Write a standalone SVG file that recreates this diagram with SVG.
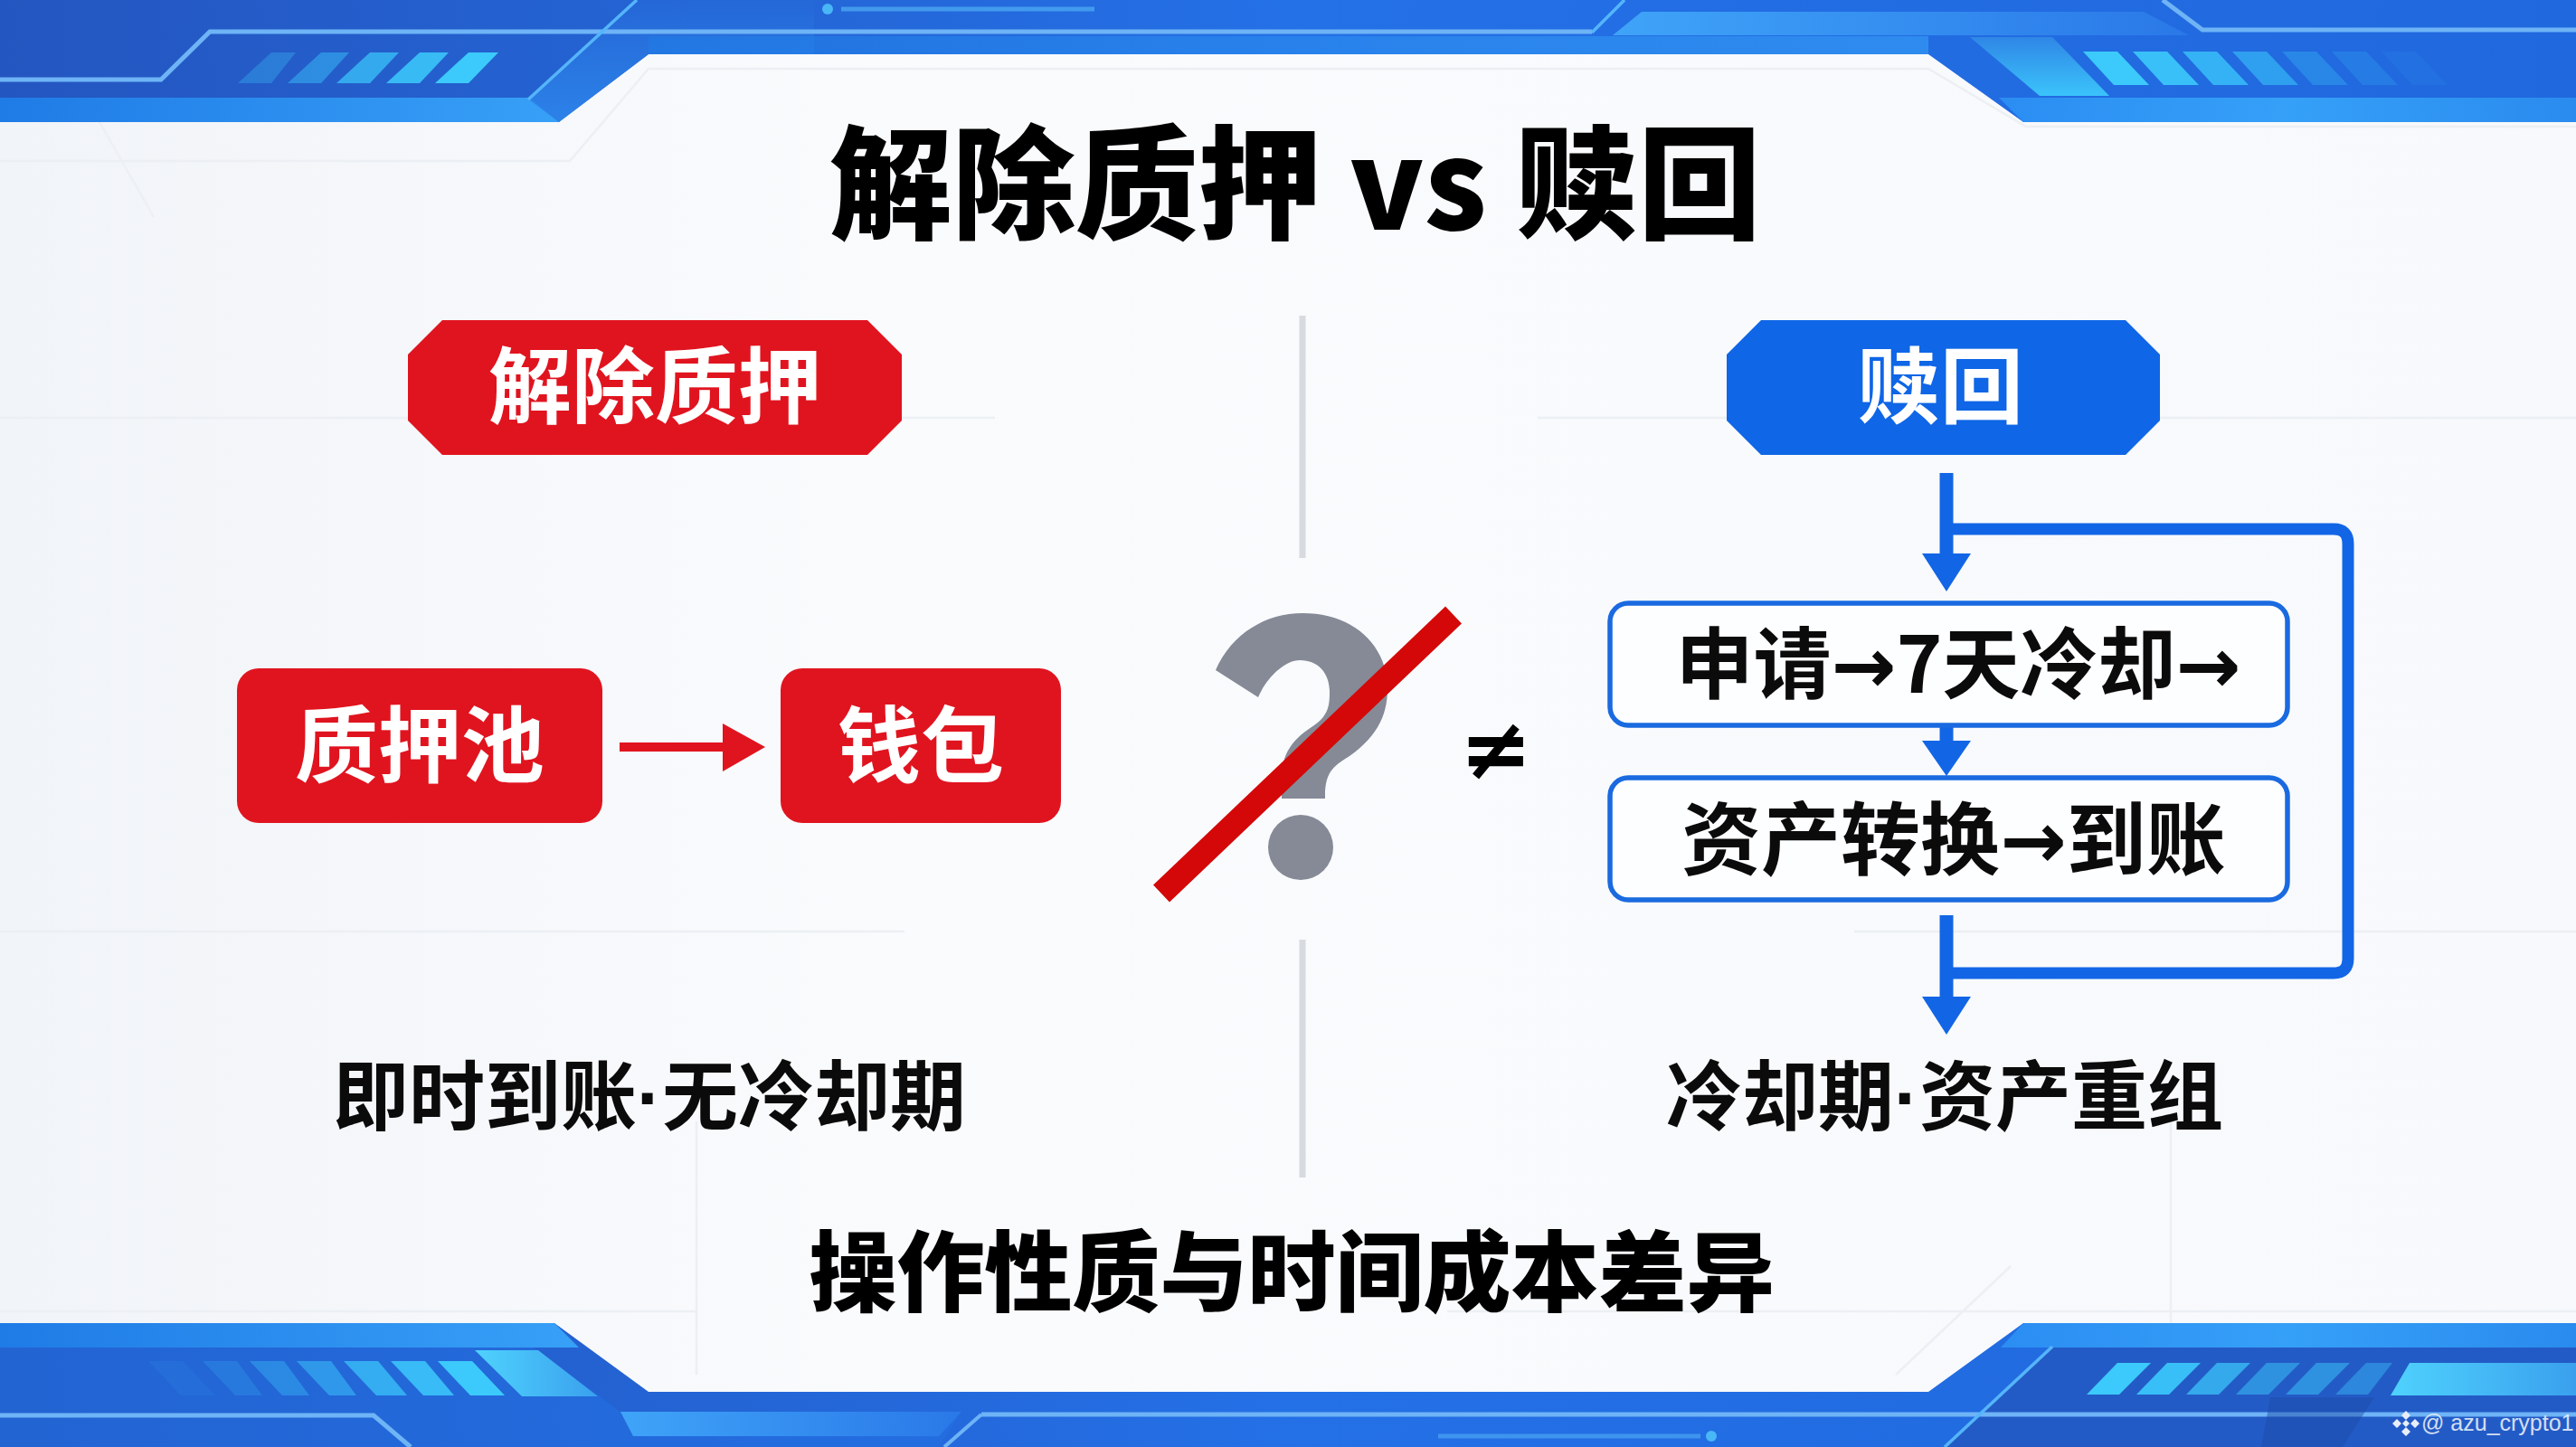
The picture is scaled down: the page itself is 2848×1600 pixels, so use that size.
<svg xmlns="http://www.w3.org/2000/svg" width="2848" height="1600" viewBox="0 0 2848 1600">
<defs>
<linearGradient id="bg" x1="0" x2="1" y1="0" y2="0"><stop offset="0" stop-color="#f1f4f8"/><stop offset="0.35" stop-color="#fafbfd"/><stop offset="1" stop-color="#f7f9fc"/></linearGradient>
<linearGradient id="topBand" x1="0" x2="1" y1="0" y2="0"><stop offset="0" stop-color="#2456c0"/><stop offset="0.5" stop-color="#2470e6"/><stop offset="1" stop-color="#2068de"/></linearGradient>
<linearGradient id="edgeL" x1="0" x2="1" y1="0" y2="0"><stop offset="0" stop-color="#1f7be6"/><stop offset="1" stop-color="#37a0f7"/></linearGradient>
<linearGradient id="edgeR" x1="0" x2="1" y1="0" y2="0"><stop offset="0" stop-color="#2b8df2"/><stop offset="0.5" stop-color="#35a0f8"/><stop offset="1" stop-color="#2a8bee"/></linearGradient>
<linearGradient id="panelFade" x1="0" x2="1" y1="0" y2="0"><stop offset="0" stop-color="#3fa4f8"/><stop offset="1" stop-color="#2a78e8"/></linearGradient>
<linearGradient id="slope" x1="0" x2="0" y1="0" y2="1"><stop offset="0" stop-color="#2568d8"/><stop offset="1" stop-color="#2f8df0"/></linearGradient>
<linearGradient id="cyanBar" x1="0" x2="0" y1="0" y2="1"><stop offset="0" stop-color="#2f86e6"/><stop offset="1" stop-color="#3bc4fb"/></linearGradient>
<linearGradient id="cyanPanel" x1="0" x2="1" y1="0" y2="0"><stop offset="0" stop-color="#4fd2fd"/><stop offset="1" stop-color="#3aa0ee"/></linearGradient>
</defs>
<style>
.cjk{font-family:"Noto Sans CJK SC","Noto Sans",sans-serif;text-anchor:middle}
.title{font-weight:900;fill:#000}
.wt{font-weight:700;fill:#fff;font-size:92px}
.bk{font-weight:700;fill:#0b0b0b;font-size:86px}
.cap{font-size:84px}
.ar{font-family:"DejaVu Sans",sans-serif;font-weight:700}
.dot{font-family:"Liberation Sans",sans-serif}
.line{fill:none;stroke:#6eb4f6;stroke-width:5}
.thin{fill:none;stroke:#55b5fb;stroke-width:3.5}
.faint{fill:none;stroke:#eceff3;stroke-width:2.5}
.flow{fill:none;stroke:#1266e6;stroke-width:15}
.loop{fill:none;stroke:#1266e6;stroke-width:13}
.head{fill:#1266e6}
.step{fill:#fdfeff;stroke:#1a6ae0;stroke-width:5.5}
.divider{stroke:#d7dade;stroke-width:7}
.cy{fill:#3ccafc}
</style>
<rect id="background" width="2848" height="1600" fill="url(#bg)"/>
<g id="faint-lines">
<path class="faint" d="M0 178H630L717 76H2132L2240 140H2848"/>
<path class="faint" d="M110 135L170 240M0 462H1100M1700 462H2848M0 1030H1000M2050 1030H2848M770 1240V1520M2400 1240V1500M0 1450H770M2096 1520L2223 1400M1600 1450H2848"/>
</g>

<g id="top-band">
<path fill="url(#topBand)" d="M0 0H2848V135H2237L2132 60H717L618 135H0Z"/>
<path fill="url(#edgeL)" d="M0 108H584L618 135H0Z"/>
<path fill="url(#slope)" d="M584 110L704 0H900V60H717L618 135Z" opacity="0.75"/>
<path fill="url(#edgeL)" d="M717 40H2132V60H717Z" opacity="0.6"/>
<path fill="url(#edgeR)" d="M2210 108H2848V135H2237Z"/>
<path fill="url(#panelFade)" d="M1815 13H2370L2420 39H1783Z"/>
<path fill="url(#cyanBar)" d="M2178 41H2269L2332 106H2255Z"/>
<path class="line" d="M0 88H178L232 35H1760"/>
<path class="thin" d="M704 0L584 110"/>
<path class="thin" d="M1796 0L1760 36"/>
<path class="line" d="M2391 0L2435 33H2848"/>
<circle cx="915" cy="10" r="6" fill="#49b6f6"/>
<path d="M930 10H1210" stroke="#4aa6f2" stroke-width="5" opacity="0.8"/>
<g class="cy">
<path opacity="0.3" d="M300 58H327L300 92H263Z"/>
<path opacity="0.45" d="M355 58H386L355 92H318Z"/>
<path opacity="0.7" d="M409 58H441L409 92H372Z"/>
<path opacity="0.85" d="M464 58H496L464 92H427Z"/>
<path d="M518 58H551L518 92H481Z"/>
<path d="M2303 57H2341L2376 94H2337Z"/>
<path opacity="0.9" d="M2358 57H2396L2431 94H2392Z"/>
<path opacity="0.75" d="M2413 57H2451L2486 94H2447Z"/>
<path opacity="0.55" d="M2468 57H2506L2541 94H2502Z"/>
<path opacity="0.3" d="M2523 57H2561L2596 94H2557Z"/>
<path opacity="0.2" d="M2578 57H2616L2651 94H2612Z"/>
<path opacity="0.08" d="M2633 57H2671L2706 94H2667Z"/>
</g>
</g>

<g id="bottom-band">
<path fill="url(#topBand)" d="M0 1463H613L717 1539H2132L2237 1463H2848V1600H0Z"/>
<path fill="#2272e6" d="M0 1490H590L686 1561H1063L1038 1600H0Z" opacity="0.5"/>
<path fill="url(#edgeL)" d="M0 1463H613L640 1490H0Z"/>
<path fill="url(#edgeR)" d="M2237 1463H2848V1490H2212Z"/>
<path fill="#235bc6" d="M2269 1490H2848V1600H2150Z"/>
<path fill="url(#panelFade)" d="M686 1561H1063L1038 1588H700Z"/>
<path fill="url(#cyanPanel)" d="M525 1493H595L661 1544H577Z"/>
<path class="line" d="M0 1565H413L454 1600"/>
<path class="line" d="M1085 1564H2848"/>
<path d="M1085 1564L1044 1600" fill="none" stroke="#6eb4f6" stroke-width="4"/>
<path class="thin" d="M2269 1489L2150 1600"/>
<circle cx="1892" cy="1588" r="6" fill="#49b6f6"/>
<path d="M1590 1588H1880" stroke="#4aa6f2" stroke-width="5" opacity="0.7"/>
<path d="M2664 1507H2848V1543H2643Z" fill="url(#cyanPanel)"/>
<g class="cy">
<path opacity="0.08" d="M164 1505H202L238 1543H200Z"/>
<path opacity="0.2" d="M224 1505H262L290 1543H260Z"/>
<path opacity="0.35" d="M276 1505H314L342 1543H312Z"/>
<path opacity="0.5" d="M328 1505H366L394 1543H364Z"/>
<path opacity="0.7" d="M380 1505H418L450 1543H416Z"/>
<path opacity="0.85" d="M432 1505H470L502 1543H468Z"/>
<path d="M484 1505H522L558 1543H520Z"/>
<path d="M2341 1507H2378L2343 1542H2307Z"/>
<path opacity="0.9" d="M2396 1507H2433L2398 1542H2362Z"/>
<path opacity="0.7" d="M2451 1507H2488L2453 1542H2417Z"/>
<path opacity="0.5" d="M2506 1507H2543L2508 1542H2472Z"/>
<path opacity="0.5" d="M2561 1507H2598L2563 1542H2527Z"/>
<path opacity="0.4" d="M2616 1507H2645L2618 1542H2582Z"/>
</g>
<path d="M2510 1545H2625L2590 1600H2500Z" fill="#1c4aa6" opacity="0.45"/>
</g>

<g id="watermark">
<path fill="#e8eef8" d="M2660 1560L2665 1565L2660 1570L2655 1565ZM2650 1569L2655 1574L2650 1579L2645 1574ZM2670 1569L2675 1574L2670 1579L2665 1574ZM2660 1570L2664 1574L2660 1578L2656 1574ZM2660 1578L2665 1583L2660 1588L2655 1583Z"/>
<text x="2677" y="1582" font-family="'Liberation Sans','DejaVu Sans',sans-serif" font-size="25" fill="#e6edf8" opacity="0.9">@ azu_crypto1</text>
</g>

<text id="title" class="cjk title" x="1432" y="254" font-size="136">解除质押 vs 赎回</text>

<g id="dividers">
<path class="divider" d="M1440 349V617M1440 1039V1302"/>
</g>

<g id="node-unstake-header">
<path fill="#e0141f" d="M489 354H959L997 392V465L959 503H489L451 465V392Z"/>
<text class="cjk wt" x="724" y="461">解除质押</text>
</g>
<g id="node-redeem-header">
<path fill="#0f66e6" d="M1947 354H2350L2388 392V465L2350 503H1947L1909 465V392Z"/>
<text class="cjk wt" x="2145" y="461">赎回</text>
</g>
<g id="node-pool">
<rect x="262" y="739" width="404" height="171" rx="24" fill="#e0141f"/>
<text class="cjk wt" x="464" y="858">质押池</text>
</g>
<g id="node-wallet">
<rect x="863" y="739" width="310" height="171" rx="24" fill="#e0141f"/>
<text class="cjk wt" x="1018" y="858">钱包</text>
</g>

<g id="connectors">
<path d="M685 826H802" fill="none" stroke="#e0141f" stroke-width="10"/>
<path d="M799 800L846 826L799 853Z" fill="#e0141f"/>
<path class="flow" d="M2152 523V616"/>
<path class="head" d="M2125 612H2179L2152 654Z"/>
<path class="loop" d="M2158 585H2580Q2596 585 2596 601V1060Q2596 1076 2580 1076H2158"/>
<path class="flow" d="M2152 802V822"/>
<path class="head" d="M2125 819H2179L2152 858Z"/>
<path class="flow" d="M2152 1012V1106"/>
<path class="head" d="M2125 1102H2179L2152 1144Z"/>
</g>

<g id="node-apply">
<rect class="step" x="1780" y="667" width="749" height="135" rx="20"/>
<text class="cjk bk" x="2165" y="766">申请<tspan class="ar">→</tspan>7天冷却<tspan class="ar">→</tspan></text>
</g>
<g id="node-convert">
<rect class="step" x="1780" y="860" width="749" height="135" rx="20"/>
<text class="cjk bk" x="2160" y="960" style="font-size:88px">资产转换<tspan class="ar">→</tspan>到账</text>
</g>

<g id="not-question">
<path fill="#858a96" d="M1344 741C1362 700 1400 678 1440 678C1495 678 1534 712 1534 762C1534 795 1518 818 1492 836C1477 846 1465 851 1465 880V883H1417V860C1417 835 1428 818 1450 804C1469 792 1470 780 1470 765C1470 745 1458 730 1437 730C1420 730 1400 750 1391 771Z"/>
<circle cx="1438" cy="937" r="36" fill="#858a96"/>
<path d="M1284 988L1607 680" stroke="#d40808" stroke-width="26"/>
</g>
<text id="not-equal" x="1654" y="861" text-anchor="middle" font-family="'DejaVu Sans',sans-serif" font-weight="700" font-size="96" fill="#000">≠</text>

<text id="left-caption" class="cjk bk cap" x="718" y="1243" style="font-size:84px">即时到账<tspan class="dot">·</tspan>无冷却期</text>
<text id="right-caption" class="cjk bk cap" x="2150" y="1243" style="font-size:84px">冷却期<tspan class="dot">·</tspan>资产重组</text>
<text id="conclusion" class="cjk title" x="1428" y="1442" font-size="97">操作性质与时间成本差异</text>
</svg>
